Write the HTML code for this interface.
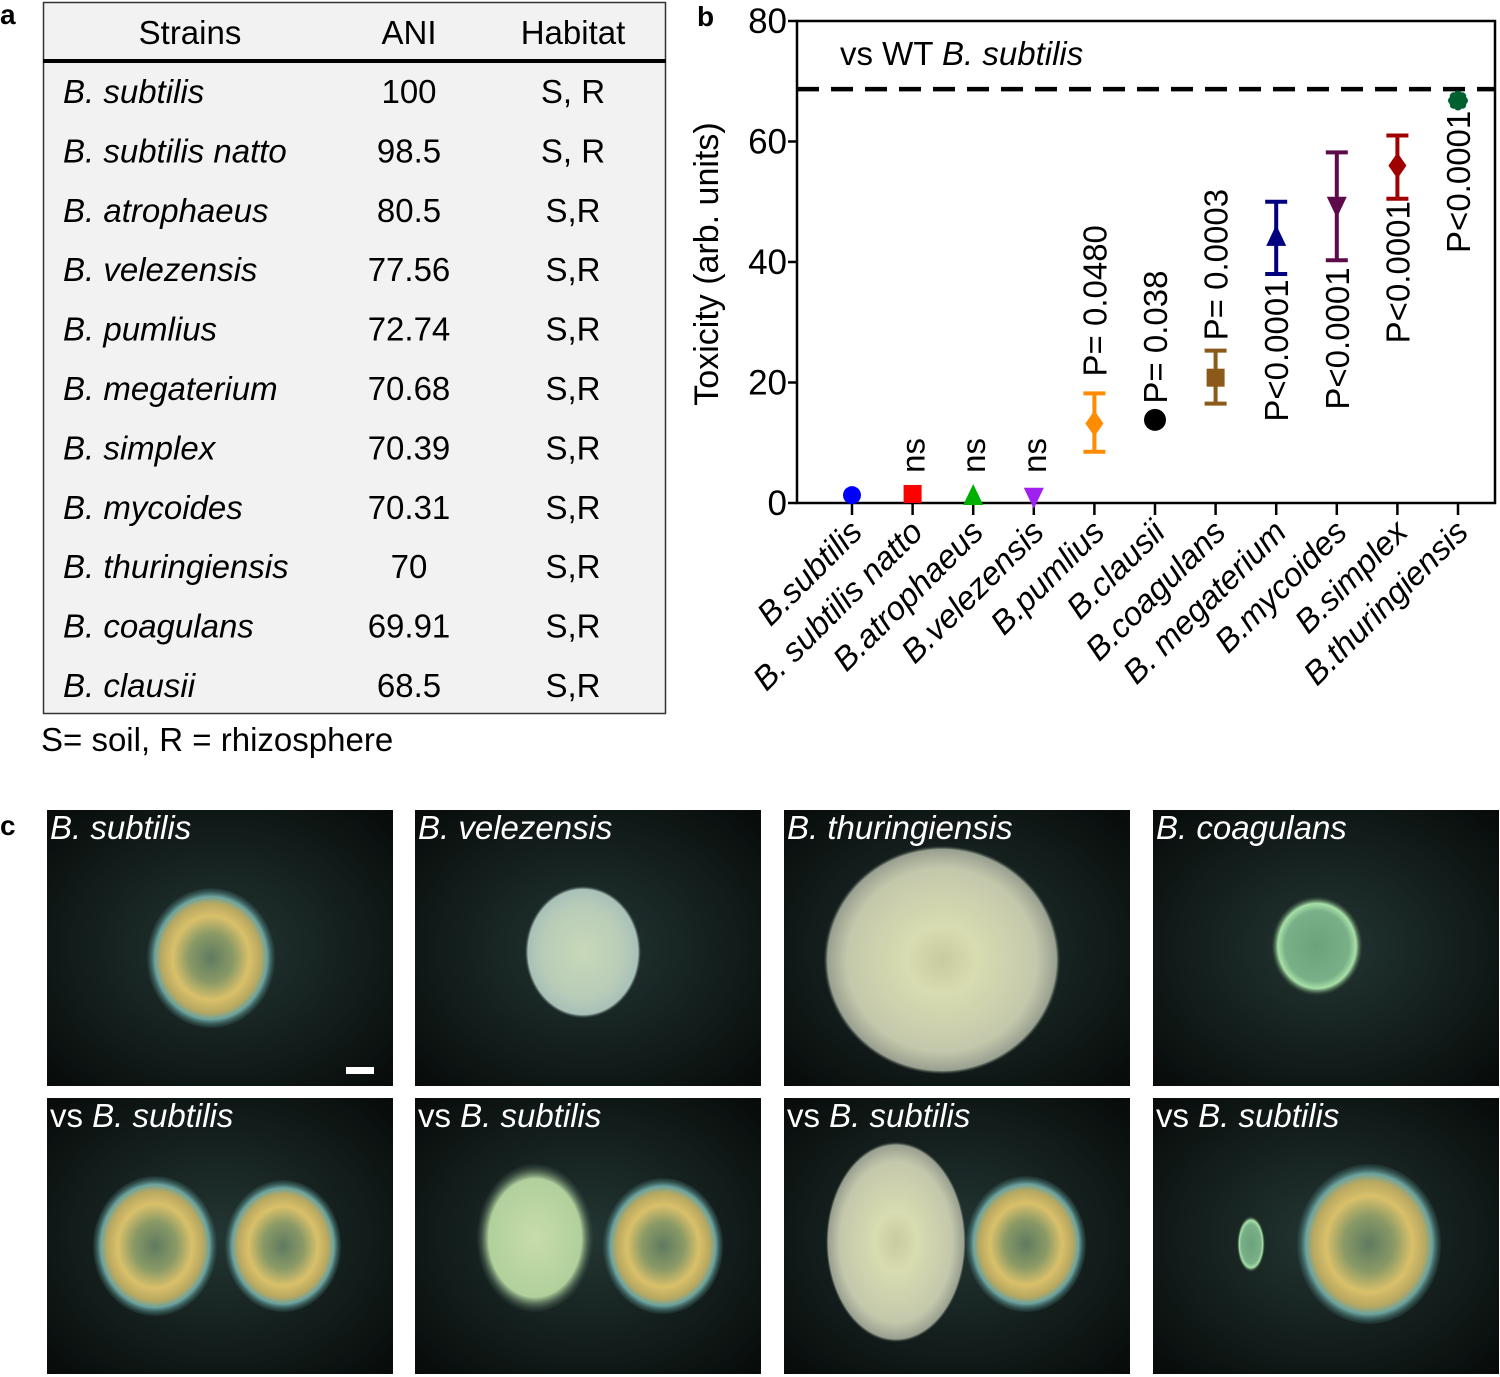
<!DOCTYPE html>
<html><head><meta charset="utf-8"><style>
html,body{margin:0;padding:0;background:#fff;}
svg{display:block;font-family:"Liberation Sans",Arial,sans-serif;}
</style></head><body>
<svg id="root" width="1500" height="1377" viewBox="0 0 1500 1377" xmlns="http://www.w3.org/2000/svg">
<defs>
  <radialGradient id="bg" cx="50%" cy="50%" r="70%">
    <stop offset="0" stop-color="#233633"/><stop offset="0.6" stop-color="#121c1a"/><stop offset="1" stop-color="#070b0a"/>
  </radialGradient>
  <radialGradient id="wt" cx="50%" cy="50%" r="50%">
    <stop offset="0" stop-color="#5f7a60"/><stop offset="0.35" stop-color="#8a9a66"/><stop offset="0.6" stop-color="#d9c06a"/><stop offset="0.78" stop-color="#b8a860"/><stop offset="0.88" stop-color="#6aa3a0"/><stop offset="1" stop-color="#2f4f4c" stop-opacity="0.3"/>
  </radialGradient>
  <radialGradient id="vel" cx="50%" cy="50%" r="50%">
    <stop offset="0" stop-color="#c8d8b8"/><stop offset="0.7" stop-color="#b8ccb8"/><stop offset="0.95" stop-color="#a8c0b8"/><stop offset="1" stop-color="#304440" stop-opacity="0.2"/>
  </radialGradient>
  <radialGradient id="thu" cx="50%" cy="50%" r="50%">
    <stop offset="0" stop-color="#c8caa0"/><stop offset="0.3" stop-color="#d8dcb0"/><stop offset="0.8" stop-color="#c4c8ac"/><stop offset="0.97" stop-color="#9aa090"/><stop offset="1" stop-color="#303c36" stop-opacity="0.2"/>
  </radialGradient>
  <radialGradient id="coa" cx="50%" cy="50%" r="50%">
    <stop offset="0" stop-color="#6ca27a"/><stop offset="0.7" stop-color="#79b088"/><stop offset="0.85" stop-color="#a8e0a8"/><stop offset="1" stop-color="#1a2a22" stop-opacity="0.2"/>
  </radialGradient>
  <radialGradient id="vgr" cx="50%" cy="50%" r="50%">
    <stop offset="0" stop-color="#c8dcaa"/><stop offset="0.8" stop-color="#b0d09c"/><stop offset="1" stop-color="#304440" stop-opacity="0.2"/>
  </radialGradient>
</defs>

<text x="0" y="24" font-size="28" font-weight="bold">a</text>
<text x="697" y="26" font-size="28" font-weight="bold">b</text>
<text x="0" y="835" font-size="28" font-weight="bold">c</text>

<g>
  <rect x="43.5" y="2.5" width="622" height="711" fill="#f2f2f2" stroke="#333" stroke-width="1.5"/>
  <line x1="43" y1="61" x2="666" y2="61" stroke="#000" stroke-width="4"/>
  <g font-size="33" text-anchor="middle">
    <text x="190" y="44">Strains</text>
    <text x="409" y="44">ANI</text>
    <text x="573" y="44">Habitat</text>
  </g>
  <g id="tbody" font-size="33"></g>
</g>
<text x="41" y="751" font-size="33">S= soil, R = rhizosphere</text>

<g id="chart"></g>
<g id="photos"></g>
</svg>

<script>
var NS="http://www.w3.org/2000/svg";
function mk(tag,attrs,parent,txt){var e=document.createElementNS(NS,tag);for(var k in attrs)e.setAttribute(k,attrs[k]);if(txt!==undefined)e.textContent=txt;parent.appendChild(e);return e;}

/* ---- Table data ---- */
var tableStrains=["B. subtilis","B. subtilis natto","B. atrophaeus","B. velezensis","B. pumlius","B. megaterium","B. simplex","B. mycoides","B. thuringiensis","B. coagulans","B. clausii"];
var tableANI=["100","98.5","80.5","77.56","72.74","70.68","70.39","70.31","70","69.91","68.5"];
var tableHabitat=["S, R","S, R","S,R","S,R","S,R","S,R","S,R","S,R","S,R","S,R","S,R"];
var tb=document.getElementById('tbody');
for(var i=0;i<tableStrains.length;i++){
  var y=103+i*59.4;
  var t1=mk('text',{x:63,y:y,'font-style':'italic'},tb,tableStrains[i]);
  
  
  var t2=mk('text',{x:409,y:y,'text-anchor':'middle'},tb,tableANI[i]);
  
  
  var t3=mk('text',{x:573,y:y,'text-anchor':'middle'},tb,tableHabitat[i]);
  
  
}

/* ---- Chart data ---- */
var categories=["B.subtilis","B. subtilis natto","B.atrophaeus","B.velezensis","B.pumlius","B.clausii","B.coagulans","B. megaterium","B.mycoides","B.simplex","B.thuringiensis"];
var meanValues=[1.3,1.5,1.0,1.2,13.2,13.8,20.8,44.0,49.5,56.0,66.8];
var errLow=[1.3,1.5,1.0,1.2,8.5,13.8,16.5,38.0,40.3,50.5,66.8];
var errHigh=[1.3,1.5,1.0,1.2,18.2,13.8,25.3,50.0,58.2,61.0,66.8];
var pLabels=["","ns","ns","ns","P= 0.0480","P= 0.038","P= 0.0003","P<0.0001","P<0.0001","P<0.0001","P<0.0001"];
var pLabelValues=[0,5,5,5,21,16.5,27,13.5,15.5,26.5,41.5];
var yTicks=[0,20,40,60,80];
var refValue=68.7;
var colors=["#0000ff","#ff0000","#00b000","#a020f0","#ff8c00","#000000","#8b5a1a","#000080","#5c0a4a","#a00000","#006030"];
var shapes=["circle","square","triangle","tridown","diamond","hex","square","triangle","tridown","diamond","star"];

var X0=797,X1=1495,Y0=503,Y1=21;
function ys(v){return Y0-(v-0)/(80-0)*(Y0-Y1);}
function xs(i){return 852+i*60.6;}
var ch=document.getElementById('chart');

var frame=mk('rect',{x:X0,y:Y1,width:X1-X0,height:Y0-Y1,fill:'none',stroke:'#000','stroke-width':2.5},ch);



yTicks.forEach(function(v){
  var l=mk('line',{x1:X0-9,x2:X0,y1:ys(v),y2:ys(v),stroke:'#000','stroke-width':2.5},ch);
  
  
  var t=mk('text',{x:X0-10,y:ys(v)+12,'font-size':35,'text-anchor':'end'},ch,String(v));
  
  
});
var yt=mk('text',{transform:'translate(718,264) rotate(-90)','font-size':34,'text-anchor':'middle'},ch,'Toxicity (arb. units)');



var ref=mk('line',{x1:X0,x2:X1,y1:ys(refValue),y2:ys(refValue),stroke:'#000','stroke-width':4.5,'stroke-dasharray':'22,12'},ch);


var rl=mk('text',{x:840,y:65,'font-size':33},ch);


mk('tspan',{},rl,'vs WT ');
mk('tspan',{'font-style':'italic'},rl,'B. subtilis');

function marker(shape,cx,cy,col,g){
  var r=9,el;
  if(shape==='circle'||shape==='hex') el=mk('circle',{cx:cx,cy:cy,r:shape==='hex'?11:9,fill:col},g);
  else if(shape==='square') el=mk('rect',{x:cx-r,y:cy-r,width:2*r,height:2*r,fill:col},g);
  else if(shape==='triangle') el=mk('polygon',{points:(cx)+','+(cy-13)+' '+(cx-10)+','+(cy+8)+' '+(cx+10)+','+(cy+8),fill:col},g);
  else if(shape==='tridown') el=mk('polygon',{points:(cx)+','+(cy+13)+' '+(cx-10)+','+(cy-8)+' '+(cx+10)+','+(cy-8),fill:col},g);
  else if(shape==='diamond') el=mk('polygon',{points:cx+','+(cy-13)+' '+(cx+9)+','+cy+' '+cx+','+(cy+13)+' '+(cx-9)+','+cy,fill:col},g);
  else { el=mk('g',{},g); for(var a=0;a<8;a++){var ang=a*Math.PI/4; mk('circle',{cx:cx+6*Math.cos(ang),cy:cy+6*Math.sin(ang),r:4,fill:col},el);} mk('circle',{cx:cx,cy:cy,r:6,fill:col},el);}
  
  
}

categories.forEach(function(c,i){
  var x=xs(i);
  var tk=mk('line',{x1:x,x2:x,y1:Y0,y2:Y0+12,stroke:'#000','stroke-width':2.5},ch);
  
  
  var g=mk('g',{},ch);
  
  
  if(errHigh[i]-errLow[i]>0.5){
    var eb=mk('path',{d:'M'+x+','+ys(errLow[i])+'V'+ys(errHigh[i])+'M'+(x-11)+','+ys(errLow[i])+'H'+(x+11)+'M'+(x-11)+','+ys(errHigh[i])+'H'+(x+11),stroke:colors[i],'stroke-width':4,fill:'none'},g);
    
    
  }
  marker(shapes[i],x,ys(meanValues[i]),colors[i],g);
  if(pLabels[i]){
    var pl=mk('text',{transform:'translate('+(x+12)+','+ys(pLabelValues[i])+') rotate(-90)','font-size':33},ch,pLabels[i]);
    
    
  }
  var xl=mk('text',{transform:'translate('+(x+12)+',534) rotate(-45)','font-size':33,'font-style':'italic','text-anchor':'end'},ch,c);
  
  
});

/* ---- Photos ---- */
var ph=document.getElementById('photos');
var colsX=[47,415,784,1153], rowsY=[810,1098], pw=346, phh=276;
var topTitles=["B. subtilis","B. velezensis","B. thuringiensis","B. coagulans"];
function colony(g,cx,cy,rx,ry,grad){var e=mk('ellipse',{cx:cx,cy:cy,rx:rx,ry:ry,fill:'url(#'+grad+')'},g);}
for(var r=0;r<2;r++)for(var c=0;c<4;c++){
  var x=colsX[c],y=rowsY[r];
  var g=mk('g',{},ph);
  
  
  mk('rect',{x:x,y:y,width:pw,height:phh,fill:'url(#bg)'},g);
  if(r===0){
    if(c===0)colony(g,x+164,y+148,64,70,'wt');
    if(c===1)colony(g,x+168,y+142,58,66,'vel');
    if(c===2)colony(g,x+158,y+150,118,114,'thu');
    if(c===3)colony(g,x+164,y+136,46,50,'coa');
  }else{
    if(c===0){colony(g,x+108,y+148,62,70,'wt');colony(g,x+236,y+148,58,66,'wt');}
    if(c===1){colony(g,x+120,y+140,58,74,'vgr');colony(g,x+248,y+148,60,68,'wt');}
    if(c===2){colony(g,x+112,y+144,70,100,'thu');colony(g,x+242,y+146,60,68,'wt');}
    if(c===3){colony(g,x+98,y+146,14,28,'coa');colony(g,x+216,y+146,72,80,'wt');}
  }
  var t=mk('text',{x:x+3,y:y+29,'font-size':33,fill:'#fff'},g);
  
  
  if(r===0){mk('tspan',{'font-style':'italic'},t,topTitles[c]);}
  else {mk('tspan',{},t,'vs ');mk('tspan',{'font-style':'italic'},t,'B. subtilis');}
}
var sb=mk('rect',{x:346,y:1067,width:28,height:7,fill:'#fff'},ph);


</script>
</body></html>
